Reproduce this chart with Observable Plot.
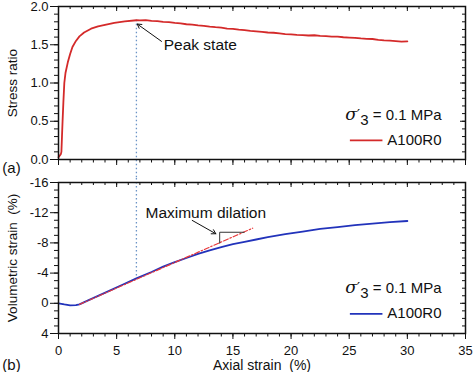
<!DOCTYPE html>
<html><head><meta charset="utf-8">
<script src="https://cdn.jsdelivr.net/npm/d3@7"></script>
<script src="https://cdn.jsdelivr.net/npm/@observablehq/plot@0.6"></script>
<style>
body{margin:0;background:#fff;}
#chart svg{display:block;overflow:visible;}
</style></head>
<body><div id="chart"></div>
<script>
// ---- data ----
const strainA = [0,0.1,0.2,0.25,0.3,0.35,0.42,0.5,0.6,0.8,1.0,1.2,1.5,1.8,2.2,2.8,3.4,4.0,4.8,5.7,6.7,
  7.0,7.5,8.0,8.5,9.0,9.5,10.0,10.5,11.0,11.5,12.0,12.5,13.0,13.5,14.0,14.5,15.0,15.5,16.0,16.5,17.0,17.5,
  18.0,18.5,19.0,19.5,20.0,20.5,21.0,21.5,22.0,22.5,23.0,23.5,24.0,24.5,25.0,25.5,26.0,26.5,27.0,27.5,28.0,28.5,29.0,29.5,30.0];
const stressRatio = [0.03,0.05,0.07,0.1,0.3,0.5,0.75,1.0,1.13,1.27,1.38,1.47,1.55,1.61,1.66,1.71,1.74,1.76,1.785,1.805,1.82,
  1.818,1.822,1.812,1.808,1.800,1.795,1.786,1.780,1.768,1.764,1.752,1.748,1.738,1.730,1.725,1.712,1.708,1.697,1.690,1.681,1.676,1.668,
  1.660,1.657,1.648,1.640,1.636,1.628,1.626,1.621,1.624,1.616,1.612,1.606,1.605,1.598,1.594,1.590,1.583,1.578,1.575,1.563,1.556,1.553,1.548,1.541,1.545];
const strainB = [0,0.5,1.0,1.5,1.8,2.5,3.5,4.5,5.5,6.7,8.0,9.0,10.0,11.0,12.0,13.0,14.0,15.0,16.0,17.0,18.0,19.5,21.0,22.5,24.0,25.5,27.0,28.5,30.0];
const volStrain = [0,0.15,0.28,0.25,0.15,-0.35,-1.05,-1.75,-2.45,-3.3,-4.15,-4.85,-5.45,-6.0,-6.55,-7.0,-7.45,-7.85,-8.15,-8.45,-8.75,-9.15,-9.5,-9.85,-10.1,-10.35,-10.55,-10.75,-10.9];
const xTicks = [0,5,10,15,20,25,30,35];
const yTicksA = [0,0.5,1.0,1.5,2.0];
const yTicksB = [-16,-12,-8,-4,0,4];
const peak = {strain: 6.7, stress: 1.82, vol: -3.3};
const tangentX = [1.8, 16.7];
const tangentY = [0.15, -9.95];
const triangleX = [13.86, 13.86, 15.97];
const triangleY = [-7.96, -9.41, -9.41];
const seriesName = "A100R0";
const confining = "σ'3 = 0.1 MPa";

// ---- layout ----
const W = 474, ML = 58, MR = 9;
const FW = W - ML - MR;
const red = "#d42a2a", blue = "#2233bb", ink = "#111";
const font = "'Liberation Sans', Arial, Helvetica, sans-serif";
const minorX = d3.range(0, 35.01, 1);
const minorYA = d3.range(0, 2.001, 0.1).map(v => +v.toFixed(1));
const minorYB = d3.range(-16, 4.01, 1);

function inwardTicks(frameH, xs, len) {
  return Plot.tickX(xs, {x: d => d, insetBottom: frameH - len, stroke: ink, strokeWidth: 1});
}
function inwardTicksY(ys, len) {
  return Plot.tickY(ys, {y: d => d, insetLeft: FW - len, stroke: ink, strokeWidth: 1});
}
const mid = {textAnchor: "middle", lineAnchor: "middle"};

const tableA = strainA.map((x, i) => ({x, y: stressRatio[i]}));
const tableB = strainB.map((x, i) => ({x, y: volStrain[i]}));
const tangent = tangentX.map((x, i) => ({x, y: tangentY[i]}));
const triangle = triangleX.map((x, i) => ({x, y: triangleY[i]}));

// top panel
const HA = 178, MTA = 6, MBA = 19, FHA = HA - MTA - MBA;
const topPlot = Plot.plot({
  width: W, height: HA, marginTop: MTA, marginBottom: MBA, marginLeft: ML, marginRight: MR,
  style: {fontFamily: font, fontSize: "13px", background: "white", color: ink, overflow: "visible"},
  x: {domain: [0, 35]},
  y: {domain: [0, 2]},
  marks: [
    Plot.ruleX([peak.strain], {y1: peak.stress, y2: -0.245, stroke: "#6b93c6", strokeDasharray: "1.5,2.5", strokeWidth: 1.3}),
    Plot.line(tableA, {x: "x", y: "y", stroke: red, strokeWidth: 1.8}),
    Plot.frame({stroke: ink, strokeWidth: 1.5}),
    Plot.axisY({ticks: yTicksA, tickSize: 8, tickPadding: 2, tickFormat: d3.format(".1f"), label: null, fontSize: 13}),
    Plot.axisY({ticks: minorYA, tickSize: 4, tickFormat: () => "", label: null}),
    Plot.axisX({ticks: xTicks, tickSize: 6, tickFormat: () => "", label: null}),
    Plot.axisX({ticks: minorX, tickSize: 3.5, tickFormat: () => "", label: null}),
    inwardTicks(FHA, xTicks, 5),
    inwardTicks(FHA, minorX, 3),
    inwardTicksY(yTicksA, 5),
    inwardTicksY(minorYA, 3),
    Plot.text(["Stress ratio"], {frameAnchor: "left", rotate: -90, dx: -46, fontSize: 13.5, ...mid}),
    Plot.arrow([0], {x1: 8.86, y1: 1.544, x2: 6.77, y2: 1.771, stroke: ink, strokeWidth: 1, headLength: 7}),
    Plot.text(["Peak state"], {x: 9.05, y: 1.49, textAnchor: "start", lineAnchor: "middle", fontSize: 15.5}),
    Plot.text([confining], {frameAnchor: "bottom-right", dx: -24, dy: -44, textAnchor: "end", lineAnchor: "middle", fontSize: 15}),
    Plot.ruleY([0.25], {x1: 25.1, x2: 27.9, stroke: red, strokeWidth: 1.8}),
    Plot.text([seriesName], {frameAnchor: "bottom-right", dx: -24, dy: -19, textAnchor: "end", lineAnchor: "middle", fontSize: 15}),
    Plot.text(["(a)"], {frameAnchor: "bottom-left", dx: -47, dy: 9, fontSize: 15, ...mid})
  ]
});

// bottom panel
const HB = 194, MTB = 4, MBB = 39, FHB = HB - MTB - MBB;
const botPlot = Plot.plot({
  width: W, height: HB, marginTop: MTB, marginBottom: MBB, marginLeft: ML, marginRight: MR,
  style: {fontFamily: font, fontSize: "13px", background: "white", color: ink, overflow: "visible"},
  x: {domain: [0, 35]},
  y: {domain: [4, -16]},
  marks: [
    Plot.ruleX([peak.strain], {y1: -16.53, y2: peak.vol, stroke: "#6b93c6", strokeDasharray: "1.5,2.5", strokeWidth: 1.3}),
    Plot.line(tableB, {x: "x", y: "y", stroke: blue, strokeWidth: 1.8}),
    Plot.line(tangent, {x: "x", y: "y", stroke: "#e8393b", strokeWidth: 1.2, strokeDasharray: "5,2,1.5,2"}),
    Plot.line(triangle, {x: "x", y: "y", stroke: "#333", strokeWidth: 1}),
    Plot.frame({stroke: ink, strokeWidth: 1.5}),
    Plot.axisY({ticks: yTicksB, tickSize: 8, tickPadding: 2, tickFormat: d => String(d), label: null, fontSize: 13}),
    Plot.axisY({ticks: minorYB, tickSize: 4, tickFormat: () => "", label: null}),
    Plot.axisX({ticks: xTicks, tickSize: 6, tickPadding: 6, tickFormat: d => String(d), label: null, fontSize: 13}),
    Plot.axisX({ticks: minorX, tickSize: 3.5, tickFormat: () => "", label: null}),
    inwardTicks(FHB, xTicks, 5),
    inwardTicks(FHB, minorX, 3),
    inwardTicksY(yTicksB, 5),
    inwardTicksY(minorYB, 3),
    Plot.text(["Volumetric strain  (%)"], {frameAnchor: "left", rotate: -90, dx: -46, fontSize: 13.5, ...mid}),
    Plot.text(["Axial strain  (%)"], {frameAnchor: "bottom", dy: 32, fontSize: 14, ...mid}),
    Plot.arrow([0], {x1: 11.5, y1: -10.98, x2: 13.53, y2: -9.21, stroke: ink, strokeWidth: 1, headLength: 7}),
    Plot.text(["Maximum dilation"], {x: 7.48, y: -11.94, textAnchor: "start", lineAnchor: "middle", fontSize: 15.5}),
    Plot.text([confining], {frameAnchor: "bottom-right", dx: -24, dy: -45, textAnchor: "end", lineAnchor: "middle", fontSize: 15}),
    Plot.ruleY([1.41], {x1: 25.1, x2: 27.9, stroke: blue, strokeWidth: 1.8}),
    Plot.text([seriesName], {frameAnchor: "bottom-right", dx: -24, dy: -20, textAnchor: "end", lineAnchor: "middle", fontSize: 15}),
    Plot.text(["(b)"], {frameAnchor: "bottom-left", dx: -47, dy: 32, fontSize: 15, ...mid})
  ]
});

function fixSigma(svg) {
  const ns = "http://www.w3.org/2000/svg";
  svg.querySelectorAll("text").forEach(t => {
    if (t.textContent === confining) {
      while (t.firstChild) t.removeChild(t.firstChild);
      const parts = [
        ["σ", {"font-style": "italic", "font-family": "'DejaVu Serif', serif", "font-size": "17"}],
        ["′", {"font-family": "'DejaVu Serif', serif"}],
        ["3", {"dy": "5"}],
        [" = 0.1 MPa", {"dy": "-5"}]
      ];
      for (const [s, attrs] of parts) {
        const sp = document.createElementNS(ns, "tspan");
        sp.textContent = s;
        for (const k in attrs) sp.setAttribute(k, attrs[k]);
        t.appendChild(sp);
      }
    }
  });
}
fixSigma(topPlot); fixSigma(botPlot);
const chart = document.getElementById("chart");
chart.appendChild(topPlot);
chart.appendChild(botPlot);
</script>
</body></html>
